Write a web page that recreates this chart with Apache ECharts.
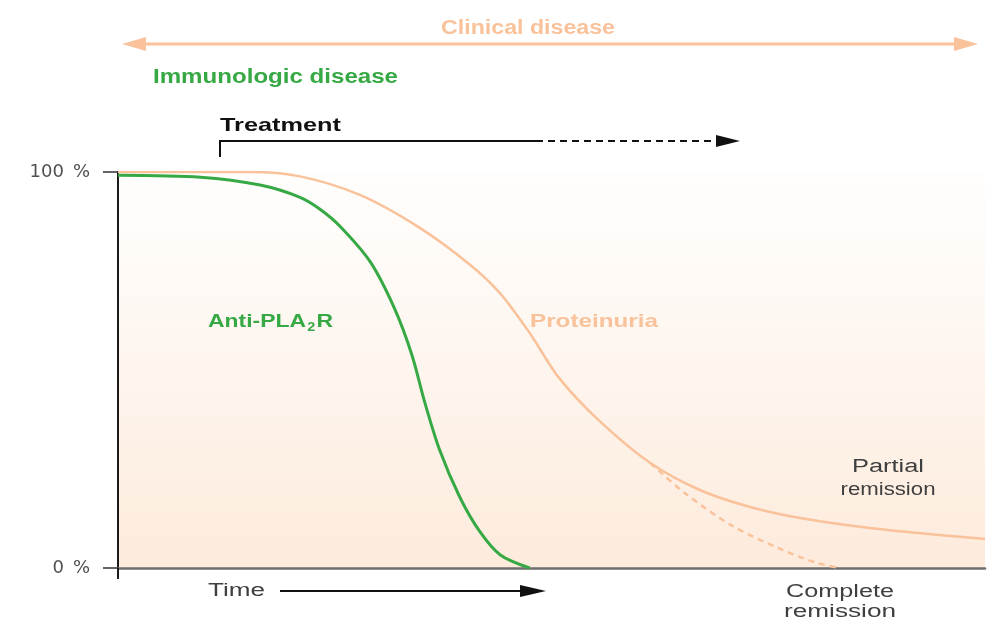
<!DOCTYPE html>
<html>
<head>
<meta charset="utf-8">
<script src="https://cdn.jsdelivr.net/npm/echarts@6/dist/echarts.min.js"></script>
<style>
html,body{margin:0;padding:0;background:#fff;}
#chart{width:1000px;height:640px;}
</style>
</head>
<body>
<div id="chart"></div>
<script>
// ---- data (time in arbitrary units 0..100, level in % of maximum) ----
var antiT = [0, 9.5, 16.4, 21.0, 23.3, 25.6, 29.1, 31.9, 33.9, 35.4, 37.1, 39.4, 41.7, 44.1, 47.5];
var antiV = [99.2, 98.7, 96.7, 93.6, 90.6, 86.3, 77.3, 65.5, 53.8, 41.7, 29.8, 18.0, 9.3, 3.3, 0];
var protT = [0, 15.2, 21.0, 27.9, 34.8, 40.6, 44.1, 47.5, 50.8, 55.4, 61.4, 67.1, 72.9, 78.7, 86.7, 100];
var protV = [100, 100, 98.9, 94.2, 85.9, 76.6, 69.3, 59.3, 48.2, 37.4, 26.5, 19.7, 15.4, 12.6, 10.1, 7.3];
var complT = [61.4, 65.5, 70.9, 76.7, 80.6, 83.3];
var complV = [26.5, 18.7, 10.6, 4.5, 1.3, 0];
var yTicks = [0, 100];

var GREEN = '#36a945';
var PEACH = '#f9c29a';

function pairs(xs, ys){ return xs.map(function(x,i){ return [x, ys[i]]; }); }

var chart = echarts.init(document.getElementById('chart'), null, {renderer:'canvas'});

var mctx = document.createElement('canvas').getContext('2d');
function measure(font, text){ mctx.font = font; return mctx.measureText(text).width; }

// text label helper: fits a label into a target width by horizontal scaling
function label(text, opts){
  var font = (opts.weight || 'normal') + ' ' + opts.size + 'px "Liberation Sans", Arial, sans-serif';
  var w = measure(font, text);
  return {
    type:'text', x:opts.x, y:opts.y, scaleX:opts.width / w, z:100,
    style:{
      text:text, fill:opts.color,
      font: font,
      textAlign: opts.align || 'left', textVerticalAlign:'middle',
      align: opts.align || 'left', verticalAlign:'middle'
    }
  };
}

function subLabel(opts){
  var fontMain = 'bold ' + opts.size + 'px "Liberation Sans", Arial, sans-serif';
  var fontSub = 'bold ' + opts.subSize + 'px "Liberation Sans", Arial, sans-serif';
  var w = measure(fontMain, opts.pre + opts.post) + measure(fontSub, opts.sub) + 2;
  return {
    type:'text', x:opts.x, y:opts.y, scaleX: opts.width / w, z:100,
    style:{
      text:'{a|' + opts.pre + '}{s|' + opts.sub + '}{a|' + opts.post + '}',
      textAlign:'left', textVerticalAlign:'middle', align:'left', verticalAlign:'middle',
      rich:{
        a:{fontSize:opts.size, fontWeight:'bold', fontFamily:'"Liberation Sans", Arial, sans-serif', fill:opts.color, color:opts.color, lineHeight:opts.size + 4, verticalAlign:'middle'},
        s:{fontSize:opts.subSize, fontWeight:'bold', fontFamily:'"Liberation Sans", Arial, sans-serif', fill:opts.color, color:opts.color, lineHeight:opts.size + 4, verticalAlign:'bottom', padding:[0,1,0,1]}
      }
    }
  };
}

var graphics = [
  // clinical disease double arrow
  {type:'line', shape:{x1:140, y1:44, x2:960, y2:44}, style:{stroke:PEACH, lineWidth:3}, z:90},
  {type:'polygon', shape:{points:[[122,44],[146,37],[146,51]]}, style:{fill:PEACH}, z:90},
  {type:'polygon', shape:{points:[[978,44],[954,37],[954,51]]}, style:{fill:PEACH}, z:90},
  label('Clinical disease', {x:528, y:28, width:174, size:20, weight:'bold', color:PEACH, align:'center'}),
  label('Immunologic disease', {x:153, y:77, width:245, size:20, weight:'bold', color:GREEN}),
  label('Treatment', {x:220, y:126, width:121, size:19, weight:'bold', color:'#111'}),
  // treatment bracket & arrow
  {type:'polyline', shape:{points:[[220,157],[220,141],[536,141]]}, style:{stroke:'#111', lineWidth:2, fill:null}, z:90},
  {type:'line', shape:{x1:536, y1:141, x2:718, y2:141}, style:{stroke:'#111', lineWidth:2, lineDash:[7,5]}, z:90},
  {type:'polygon', shape:{points:[[740,141],[716,135],[716,147]]}, style:{fill:'#111'}, z:90},
  subLabel({pre:'Anti-PLA', sub:'2', post:'R', x:208, y:322, width:125, size:19, subSize:12, color:GREEN}),
  label('Proteinuria', {x:530, y:322, width:128, size:19, weight:'bold', color:PEACH}),
  label('Partial', {x:888, y:467, width:72, size:18, color:'#3f3f3f', align:'center'}),
  label('remission', {x:888, y:490, width:95, size:18, color:'#3f3f3f', align:'center'}),
  label('Complete', {x:840, y:592, width:108, size:18, color:'#3f3f3f', align:'center'}),
  label('remission', {x:840, y:612, width:112, size:18, color:'#3f3f3f', align:'center'}),
  label('Time', {x:208, y:591, width:57, size:18, color:'#3f3f3f'}),
  {type:'line', shape:{x1:280, y1:591, x2:524, y2:591}, style:{stroke:'#111', lineWidth:2}, z:90},
  {type:'polygon', shape:{points:[[546,591],[520,585],[520,597]]}, style:{fill:'#111'}, z:90}
];

var option = {
  animation:false,
  backgroundColor:'#ffffff',
  grid:{
    left:118, right:15, top:172, bottom:72,
    show:true, borderWidth:0,
    backgroundColor:{type:'linear', x:0, y:0, x2:0, y2:1,
      colorStops:[{offset:0, color:'#fffefd'},{offset:0.35, color:'#fef8f3'},{offset:1, color:'#fdebdc'}]}
  },
  xAxis:{
    type:'value', min:0, max:100, interval:100,
    axisLine:{show:true, lineStyle:{color:'#6e6e6e', width:2.5}},
    axisTick:{show:true, customValues:[0], length:11, lineStyle:{color:'#1a1a1a', width:2}},
    axisLabel:{show:false},
    splitLine:{show:false}
  },
  yAxis:{
    type:'value', min:0, max:100, interval:100,
    axisLine:{show:true, lineStyle:{color:'#1a1a1a', width:2}},
    axisTick:{show:true, customValues:yTicks, length:15, lineStyle:{color:'#333', width:1.5}},
    axisLabel:{show:true, customValues:yTicks, formatter:function(v){ return v + '\u2002%'; },
      color:'#505050', fontSize:18, fontFamily:'"DejaVu Sans", sans-serif', margin:28},
    splitLine:{show:false}
  },
  series:[
    {name:'Proteinuria (complete remission)', type:'line', data:pairs(complT, complV), smooth:0.3,
      showSymbol:false, lineStyle:{color:PEACH, width:2.5, type:[6,5]}, z:3},
    {name:'Proteinuria', type:'line', data:pairs(protT, protV), smooth:0.3,
      showSymbol:false, lineStyle:{color:PEACH, width:2.5}, z:4},
    {name:'Anti-PLA2R', type:'line', data:pairs(antiT, antiV), smooth:0.3,
      showSymbol:false, lineStyle:{color:GREEN, width:3}, z:5}
  ],
  graphic:graphics
};
chart.setOption(option);
</script>
</body>
</html>
